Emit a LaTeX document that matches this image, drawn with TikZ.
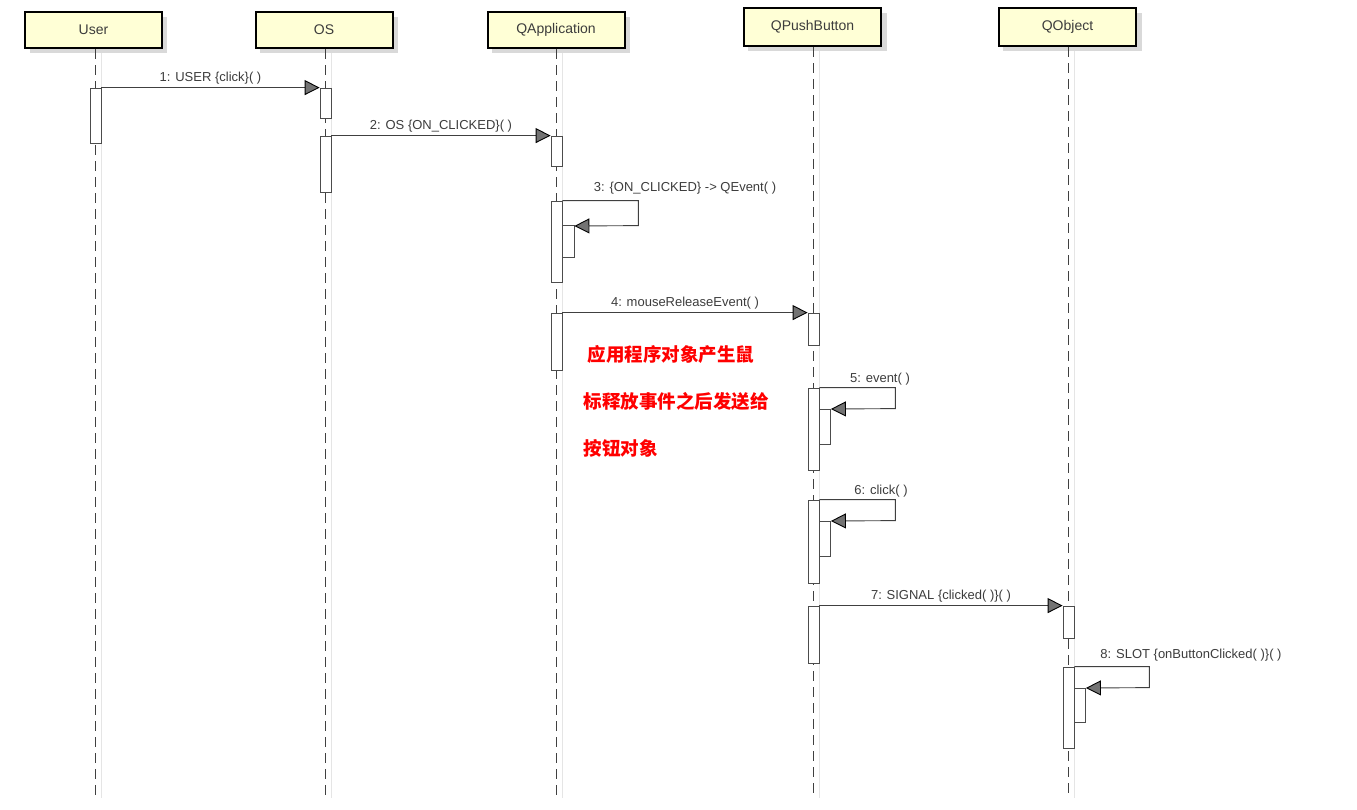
\documentclass[tikz,border=0pt]{standalone}
\usepackage{fontspec}
\setmainfont{Liberation Sans}
\newfontfamily\cjk{Noto Sans CJK SC}
\usetikzlibrary{arrows.meta}
\definecolor{hdr}{RGB}{255,255,214}
\definecolor{txt}{RGB}{60,60,60}
\begin{document}
\begin{tikzpicture}[x=1pt,y=-1pt,
  head/.style={draw=black,line width=2pt,fill=hdr,minimum width=137pt,minimum height=36pt,inner sep=0pt,font=\fontsize{14}{16}\selectfont,text=txt},
  life/.style={dash pattern=on 10pt off 6pt,line width=0.9pt,draw=black!75},
  act/.style={draw=black!70,fill=white,line width=0.8pt},
  msg/.style={draw=black!75,line width=0.9pt,-{Triangle[length=15pt,width=15pt,fill=black!55,color=black]}},
  lbl/.style={font=\fontsize{13}{15}\selectfont,text=txt,inner sep=1pt},
  red/.style={font=\cjk\bfseries\fontsize{18.5}{22}\selectfont,text=red,anchor=west}]
\useasboundingbox (0,0) rectangle (1357,809);
% shadow lines
\foreach \x in {95,325,556,813,1068}{\draw[black!10,line width=1pt] (\x+6,50) -- (\x+6,798);}
\fill[black!15] (30,17) rectangle (167,53);
\fill[black!15] (260,17) rectangle (398,53);
\fill[black!15] (492,17) rectangle (630,53);
\fill[black!15] (748,13) rectangle (887,51);
\fill[black!15] (1003,13) rectangle (1142,51);
\node[head] (user) at (93.5,30) {User};
\node[head] (os) at (324,30) {OS};
\node[head] (qapp) at (556,30) {QApplication};
\node[head,minimum height=38pt] (qpb) at (812.5,27) {QPushButton};
\node[head,minimum height=38pt] (qobj) at (1067.5,27) {QObject};
\coordinate (e1) at (95,795); \coordinate (e2) at (325,795); \coordinate (e3) at (556,795);
\coordinate (e4) at (813,795); \coordinate (e5) at (1068,795);
\draw[life] (user.south -| e1) -- (e1);
\draw[life] (os.south -| e2) -- (e2);
\draw[life] (qapp.south -| e3) -- (e3);
\draw[life] (qpb.south -| e4) -- (e4);
\draw[life] (qobj.south -| e5) -- (e5);
% activations
\node[act,minimum width=11pt,minimum height=55pt,inner sep=0pt] (a1) at (95.5,115.5) {};
\node[act,minimum width=11pt,minimum height=30pt,inner sep=0pt] (a2) at (325.5,103) {};
\node[act,minimum width=11pt,minimum height=56pt,inner sep=0pt] (a3) at (325.5,164) {};
\node[act,minimum width=11pt,minimum height=30pt,inner sep=0pt] (a4) at (556.5,151) {};
\node[act,minimum width=11pt,minimum height=81pt,inner sep=0pt] (a5) at (556.5,241.5) {};
\node[act,minimum width=12pt,minimum height=32pt,inner sep=0pt] (a5i) at (568,241) {};
\node[act,minimum width=11pt,minimum height=57pt,inner sep=0pt] (a6) at (556.5,341.5) {};
\node[act,minimum width=11pt,minimum height=32pt,inner sep=0pt] (a7) at (813.5,329) {};
\node[act,minimum width=11pt,minimum height=82pt,inner sep=0pt] (a8) at (813.5,429) {};
\node[act,minimum width=11pt,minimum height=35pt,inner sep=0pt] (a8i) at (825,426.5) {};
\node[act,minimum width=11pt,minimum height=83pt,inner sep=0pt] (a9) at (813.5,541.5) {};
\node[act,minimum width=11pt,minimum height=35pt,inner sep=0pt] (a9i) at (825,538.5) {};
\node[act,minimum width=11pt,minimum height=57pt,inner sep=0pt] (a10) at (813.5,634.5) {};
\node[act,minimum width=11pt,minimum height=32pt,inner sep=0pt] (a11) at (1068.5,622) {};
\node[act,minimum width=11pt,minimum height=81pt,inner sep=0pt] (a12) at (1068.5,707.5) {};
\node[act,minimum width=11pt,minimum height=34pt,inner sep=0pt] (a12i) at (1080,705) {};
% messages
\draw[msg] (a1.north east) -- (a2.north west) node[lbl,midway,above=2pt] {1: USER \{click\}( )};
\draw[msg] (a3.north east) -- (a4.north west) node[lbl,midway,above=2pt] {2: OS \{ON\_CLICKED\}( )};
\draw[msg] (a5.north east) -- ++(76,0) coordinate (s3) -- ++(0,25) -- (a5i.north east |- 0,226);
\node[lbl,anchor=south] (l3) at (685,195) {3: \{ON\_CLICKED\} -> QEvent( )};
\draw[msg] (a6.north east) -- (a7.north west) node[lbl,midway,above=2pt] {4: mouseReleaseEvent( )};
\draw[msg] (a8.north east) -- ++(76,0) -- ++(0,21) -- (a8i.east |- 0,409);
\node[lbl,anchor=south] (l5) at (880,386) {5: event( )};
\draw[msg] (a9.north east) -- ++(76,0) -- ++(0,21) -- (a9i.east |- 0,521);
\node[lbl,anchor=south] (l6) at (881,498) {6: click( )};
\draw[msg] (a10.north east) -- (a11.north west) node[lbl,midway,above=2pt] {7: SIGNAL \{clicked( )\}( )};
\draw[msg] (a12.north east) -- ++(75,0) -- ++(0,21) -- (a12i.east |- 0,688);
\node[lbl,anchor=south] (l8) at (1191,662) {8: SLOT \{onButtonClicked( )\}( )};
% red note
\node[red] (n1) at (584,354) {应用程序对象产生鼠};
\node[red] (n2) at (580,401) {标释放事件之后发送给};
\node[red] (n3) at (580,448) {按钮对象};
\end{tikzpicture}
\end{document}
